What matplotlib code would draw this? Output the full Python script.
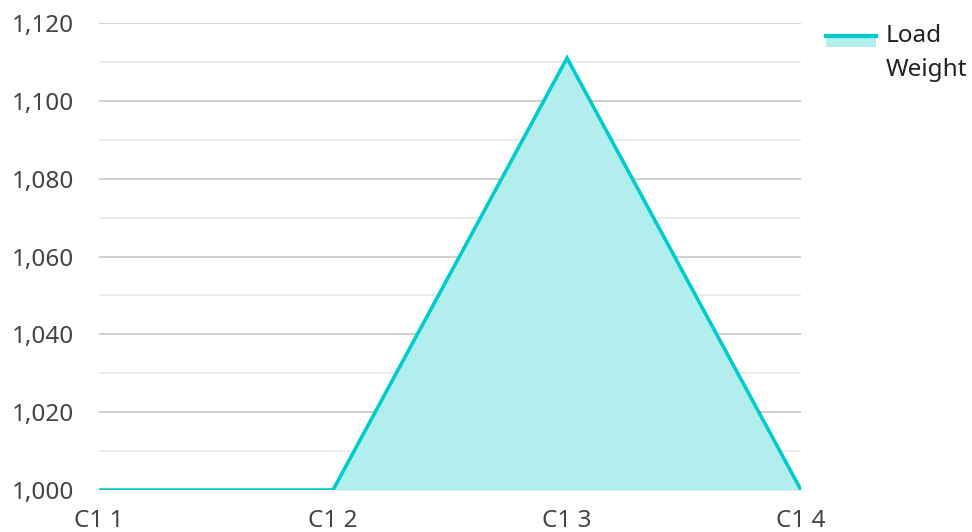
import matplotlib.pyplot as plt
from matplotlib.patches import Rectangle
from matplotlib.lines import Line2D
from matplotlib.ticker import FuncFormatter, MultipleLocator

plt.rcParams['font.family'] = ['Noto Sans', 'DejaVu Sans']

# Данные
categories = ['C1 1', 'C1 2', 'C1 3', 'C1 4']
load_weight = [1000, 1000, 1111, 1000]
series_name = 'Load\nWeight'

line_color = '#00cccc'
fill_color = '#b2eeee'
text_color = '#444444'

fig = plt.figure(figsize=(9.72, 5.32), dpi=100)
ax = fig.add_axes([99 / 972, 1 - 490 / 532, (801 - 99) / 972, (490 - 23) / 532])

x = list(range(len(categories)))
ax.fill_between(x, 1000, load_weight, color=fill_color, lw=0, zorder=2)
ax.plot(x, load_weight, color=line_color, lw=2.6, zorder=3, solid_joinstyle='miter')

ax.set_xlim(0, len(categories) - 1)
ax.set_ylim(1000, 1120)
ax.yaxis.set_major_locator(MultipleLocator(20))
ax.yaxis.set_minor_locator(MultipleLocator(10))
ax.yaxis.set_major_formatter(FuncFormatter(lambda v, p: f'{int(v):,}'))
ax.set_xticks(x)
ax.set_xticklabels(categories)

ax.grid(True, which='major', axis='y', color='#c8c8c8', lw=1.2, zorder=1)
ax.grid(True, which='minor', axis='y', color='#e8e8e8', lw=1.2, zorder=1)
for s in ax.spines.values():
    s.set_visible(False)
ax.tick_params(axis='both', which='both', length=0, labelsize=17.5, labelcolor=text_color)
ax.tick_params(axis='y', pad=18)
ax.tick_params(axis='x', pad=14)

# Легенда
fig.patches.append(Rectangle((826 / 972, 1 - 47 / 532), 50 / 972, 11 / 532,
                             transform=fig.transFigure, color=fill_color, lw=0))
fig.lines.append(Line2D([826 / 972, 876 / 972], [1 - 36 / 532, 1 - 36 / 532],
                        transform=fig.transFigure, color=line_color, lw=3))
fig.text(886 / 972, 1 - 53 / 532, series_name, fontsize=17.5, color='#222222',
         va='center', ha='left', linespacing=1.5)

fig.savefig('out.png', dpi=100, facecolor='white')
